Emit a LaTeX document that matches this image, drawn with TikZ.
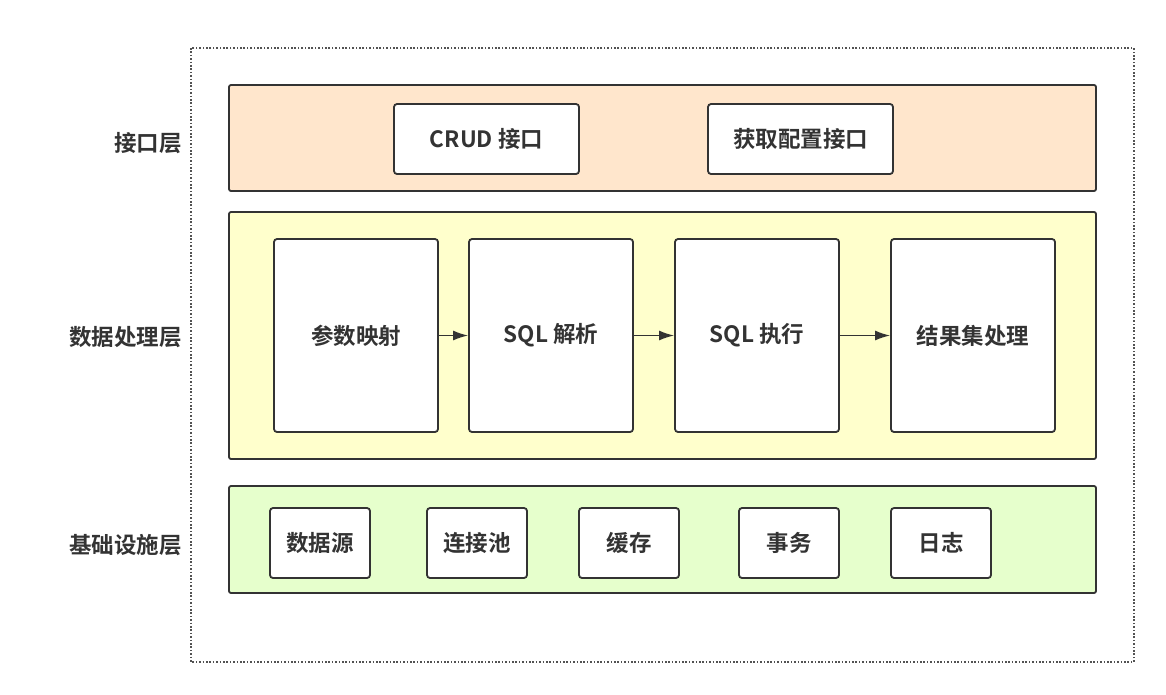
\documentclass[tikz,border=0pt]{standalone}
\usepackage{fontspec}
\setmainfont{Noto Sans CJK SC}[BoldFont=Noto Sans CJK SC Bold]
\usepackage{tikz}
\usetikzlibrary{arrows.meta}
\definecolor{ink}{HTML}{333333}
\definecolor{peach}{HTML}{FFE6CC}
\definecolor{lemon}{HTML}{FFFFCC}
\definecolor{lime}{HTML}{E6FFCC}
\tikzset{x=1pt,y=-1pt,
 layer/.style={draw=ink,line width=1.8pt,rounded corners=2pt,inner sep=0pt},
 box/.style={draw=ink,fill=white,line width=1.8pt,rounded corners=3pt,inner sep=0pt,
   text=ink,font=\fontsize{22.5}{26}\selectfont\bfseries},
 tag/.style={anchor=east,text=ink,inner sep=0pt,font=\fontsize{22.5}{26}\selectfont\bfseries},
 flow/.style={draw=ink,line width=1.5pt,-{Latex[length=15pt,width=10pt]}},
 }

\begin{document}
\begin{tikzpicture}
        \useasboundingbox (0,0) rectangle (1166,694);
        \draw[ink!85,line width=1.6pt,dash pattern=on 1.6pt off 1.8pt] (191,48) rectangle (1134,662);
        \node[layer,fill=peach,minimum width=867pt,minimum height=106pt] (iface) at (662.5,138) {};
        \node[layer,fill=lemon,minimum width=867pt,minimum height=247pt] (proc) at (662.5,335.5) {};
        \node[layer,fill=lime,minimum width=867pt,minimum height=107pt] (infra) at (662.5,539.5) {};
        \node[tag] (ifacetag) at (182,143) {接口层};
        \node[tag] (proctag) at (182,337) {数据处理层};
        \node[tag] (infratag) at (182,545) {基础设施层};
        \node[box,minimum width=185pt,minimum height=70pt] (crud) at (486.5,139) {CRUD 接口};
        \node[box,minimum width=185pt,minimum height=70pt] (conf) at (800.5,139) {获取配置接口};
        \node[box,minimum width=164pt,minimum height=193pt] (map) at (356,335.5) {参数映射};
        \node[box,minimum width=164pt,minimum height=193pt] (parse) at (551,335.5) {SQL 解析};
        \node[box,minimum width=164pt,minimum height=193pt] (exec) at (757,335.5) {SQL 执行};
        \node[box,minimum width=164pt,minimum height=193pt] (result) at (973,335.5) {结果集处理};
        \draw[flow] (map) -- (parse);
        \draw[flow] (parse) -- (exec);
        \draw[flow] (exec) -- (result);
        \node[box,minimum width=100pt,minimum height=70pt] (source) at (320,543) {数据源};
        \node[box,minimum width=100pt,minimum height=70pt] (pool) at (477,543) {连接池};
        \node[box,minimum width=100pt,minimum height=70pt] (cache) at (629,543) {缓存};
        \node[box,minimum width=100pt,minimum height=70pt] (tx) at (789,543) {事务};
        \node[box,minimum width=100pt,minimum height=70pt] (log) at (941,543) {日志};
    \end{tikzpicture}
\end{document}
